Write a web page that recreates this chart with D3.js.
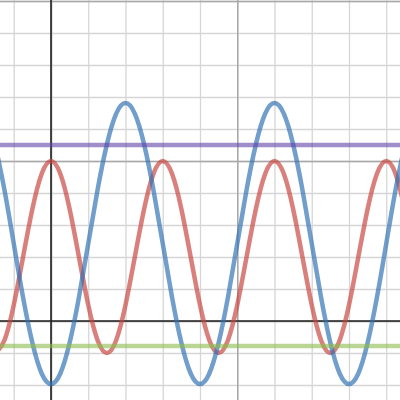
<!DOCTYPE html>
<html>
<head>
<meta charset="utf-8">
<script src="https://cdn.jsdelivr.net/npm/d3@7"></script>
<style>
  html, body { margin: 0; padding: 0; background: #fff; }
  svg { display: block; }
</style>
</head>
<body>
<svg id="chart" width="400" height="400"></svg>
<script>
// two waves and two levels on a graph-paper grid

// grid lines (in graph units)
const gridX = [-1, 0, 1, 2, 3, 4, 5, 6, 7, 8, 9];
const gridY = [-2, -1, 0, 1, 2, 3, 4, 5, 6, 7, 8, 9, 10];
const majorX = [0, 5];
const majorY = [0, 5, 10];

// sample positions along x, read every quarter unit
const xs = [-1.5, -1.25, -1, -0.75, -0.5, -0.25, 0, 0.25, 0.5, 0.75,
            1, 1.25, 1.5, 1.75, 2, 2.25, 2.5, 2.75, 3, 3.25,
            3.5, 3.75, 4, 4.25, 4.5, 4.75, 5, 5.25, 5.5, 5.75,
            6, 6.25, 6.5, 6.75, 7, 7.25, 7.5, 7.75, 8, 8.25,
            8.5, 8.75, 9, 9.25, 9.5];

// red wave
const redY = [-1, -0.6, 0.5, 2, 3.5, 4.6, 5, 4.6, 3.5, 2,
              0.5, -0.6, -1, -0.6, 0.5, 2, 3.5, 4.6, 5, 4.6,
              3.5, 2, 0.5, -0.6, -1, -0.6, 0.5, 2, 3.5, 4.6,
              5, 4.6, 3.5, 2, 0.5, -0.6, -1, -0.6, 0.5, 2,
              3.5, 4.6, 5, 4.6, 3.5];

// blue wave
const blueY = [5.52, 4.1, 2.42, 0.74, -0.68, -1.64, -1.97, -1.64, -0.68, 0.74,
               2.42, 4.1, 5.52, 6.48, 6.81, 6.48, 5.52, 4.1, 2.42, 0.74,
               -0.68, -1.64, -1.97, -1.64, -0.68, 0.74, 2.42, 4.1, 5.52, 6.48,
               6.81, 6.48, 5.52, 4.1, 2.42, 0.74, -0.68, -1.64, -1.97, -1.64,
               -0.68, 0.74, 2.42, 4.1, 5.52];

// horizontal levels
const purpleLevel = [5.5];
const greenLevel = [-0.78];

const width = 400;
const height = 400;

const svg = d3.select("#chart");

// Scales: domain = graph units, range = screen
const x = d3.scaleLinear()
  .domain([-51 / 37.25, (width - 51) / 37.25])
  .range([0, width]);

const y = d3.scaleLinear()
  .domain([-79 / 32, 321 / 32])
  .range([height, 0]);

const g = svg.append("g");

// minor grid
g.append("g")
  .attr("transform", `translate(0, ${height})`)
  .call(d3.axisBottom(x).tickValues(gridX).tickSize(-height).tickFormat(""))
  .call(a => a.select(".domain").remove())
  .selectAll("line")
  .attr("stroke", "#d6d6d6")
  .attr("stroke-width", 1.3);

g.append("g")
  .call(d3.axisLeft(y).tickValues(gridY).tickSize(-width).tickFormat(""))
  .call(a => a.select(".domain").remove())
  .selectAll("line")
  .attr("stroke", "#d6d6d6")
  .attr("stroke-width", 1.3);

// major grid
g.append("g")
  .attr("transform", `translate(0, ${height})`)
  .call(d3.axisBottom(x).tickValues(majorX).tickSize(-height).tickFormat(""))
  .call(a => a.select(".domain").remove())
  .selectAll("line")
  .attr("stroke", "#a8a8a8")
  .attr("stroke-width", 1.5);

g.append("g")
  .call(d3.axisLeft(y).tickValues(majorY).tickSize(-width).tickFormat(""))
  .call(a => a.select(".domain").remove())
  .selectAll("line")
  .attr("stroke", "#a8a8a8")
  .attr("stroke-width", 1.5);

// axes
g.append("line")
  .attr("x1", 0).attr("x2", width)
  .attr("y1", y(0)).attr("y2", y(0))
  .attr("stroke", "#222").attr("stroke-width", 1.6);

g.append("line")
  .attr("x1", x(0)).attr("x2", x(0))
  .attr("y1", 0).attr("y2", height)
  .attr("stroke", "#222").attr("stroke-width", 1.6);

const wave = d3.line()
  .x(d => x(d[0]))
  .y(d => y(d[1]))
  .curve(d3.curveNatural);

function drawWave(values, color) {
  g.append("path")
    .datum(d3.zip(xs, values))
    .attr("d", wave)
    .attr("fill", "none")
    .attr("stroke", color)
    .attr("stroke-opacity", 0.68)
    .attr("stroke-width", 4.5)
    .attr("stroke-linejoin", "round");
}

function drawLevel(level, color) {
  g.selectAll(null)
    .data(level)
    .join("line")
    .attr("x1", 0).attr("x2", width)
    .attr("y1", d => y(d)).attr("y2", d => y(d))
    .attr("stroke", color)
    .attr("stroke-opacity", 0.6)
    .attr("stroke-width", 4.5);
}

drawWave(redY, "#c74440");
drawWave(blueY, "#2d70b3");
drawLevel(purpleLevel, "#6042a6");
drawLevel(greenLevel, "#8cba4e");
</script>
</body>
</html>
